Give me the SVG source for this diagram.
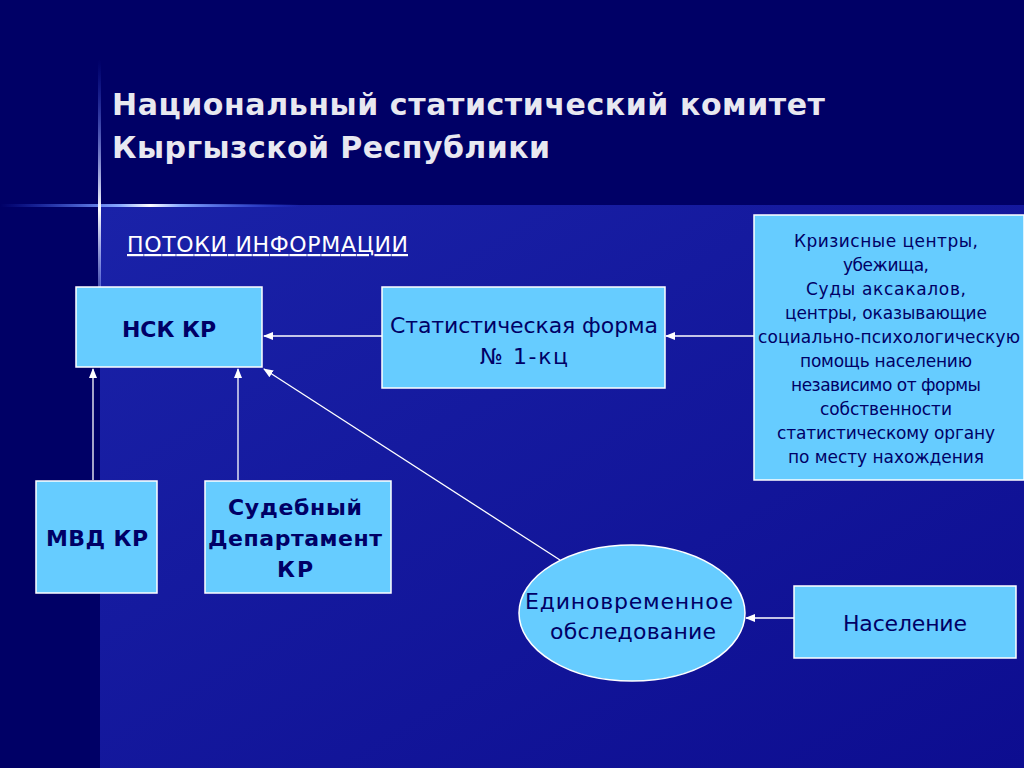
<svg xmlns="http://www.w3.org/2000/svg" width="1024" height="768" viewBox="0 0 1024 768">
<defs>
<linearGradient id="bg" x1="0" y1="0" x2="1" y2="1"><stop offset="0" stop-color="#1a22a8"/><stop offset="1" stop-color="#0d0d90"/></linearGradient>
<linearGradient id="hl" x1="0" x2="1"><stop offset="0" stop-color="#3355ff" stop-opacity="0"/><stop offset="0.4" stop-color="#88aaff"/><stop offset="0.5" stop-color="#ffffff"/><stop offset="0.6" stop-color="#88aaff"/><stop offset="1" stop-color="#3355ff" stop-opacity="0"/></linearGradient>
<linearGradient id="vl" x1="0" y1="0" x2="0" y2="1"><stop offset="0" stop-color="#3355ff" stop-opacity="0"/><stop offset="0.5" stop-color="#ffffff"/><stop offset="1" stop-color="#3355ff" stop-opacity="0"/></linearGradient>
<marker id="ar" markerWidth="10" markerHeight="8" refX="9" refY="4" orient="auto" markerUnits="userSpaceOnUse"><path d="M0,0 L10,4 L0,8 z" fill="#fff"/></marker>
</defs>
<style>
.box{fill:#66ccff;stroke:#fff;stroke-width:1.5}
.t{font-family:"DejaVu Sans",Verdana,sans-serif;fill:#000066;text-anchor:middle}
.b{font-weight:bold;font-size:22px}
.n{font-size:22px}
.s{font-size:17px}
.c{stroke:#fff;stroke-width:1.3;fill:none;marker-end:url(#ar)}
</style>
<rect width="1024" height="768" fill="#000066"/>
<rect x="100" y="205" width="924" height="563" fill="url(#bg)"/>
<rect x="0" y="204" width="300" height="3" fill="url(#hl)"/>
<rect x="98" y="60" width="3" height="300" fill="url(#vl)"/>
<text x="112" y="115" font-family="DejaVu Sans,Verdana,sans-serif" font-weight="bold" font-size="30" fill="#e8e8f0" textLength="713">Национальный статистический комитет</text>
<text x="112" y="158" font-family="DejaVu Sans,Verdana,sans-serif" font-weight="bold" font-size="30" fill="#e8e8f0" textLength="438">Кыргызской Республики</text>
<text x="127" y="252" font-family="DejaVu Sans,Verdana,sans-serif" font-size="22" fill="#fff" text-decoration="underline" textLength="281">ПОТОКИ ИНФОРМАЦИИ</text>
<g id="connectors">
<line class="c" x1="382" y1="336" x2="264" y2="336"/>
<line class="c" x1="754" y1="336" x2="666" y2="336"/>
<line class="c" x1="93" y1="480" x2="93" y2="369"/>
<line class="c" x1="238" y1="480" x2="238" y2="369"/>
<line class="c" x1="560" y1="560" x2="264" y2="369"/>
<line class="c" x1="794" y1="618" x2="746" y2="618"/>
</g>
<g id="nsk"><rect class="box" x="76" y="287" width="186" height="80"/><text class="t b" x="169" y="337" textLength="94">НСК КР</text></g>
<g id="form"><rect class="box" x="382" y="287" width="283" height="101"/><text class="t n" x="524" y="333" textLength="268">Статистическая форма</text><text class="t n" x="524" y="364" textLength="88">№ 1-кц</text></g>
<g id="centers"><rect class="box" x="754" y="215" width="270" height="265"/>
<text class="t s" x="886" y="247" textLength="184">Кризисные  центры,</text>
<text class="t s" x="886" y="271" textLength="86">убежища,</text>
<text class="t s" x="886" y="295" textLength="160">Суды аксакалов,</text>
<text class="t s" x="886" y="319" textLength="202">центры, оказывающие</text>
<text class="t s" x="889" y="343" textLength="262">социально-психологическую</text>
<text class="t s" x="886" y="367" textLength="172">помощь населению</text>
<text class="t s" x="886" y="391" textLength="190">независимо от формы</text>
<text class="t s" x="886" y="415" textLength="132">собственности</text>
<text class="t s" x="886" y="439" textLength="218">статистическому органу</text>
<text class="t s" x="886" y="463" textLength="196">по месту нахождения</text></g>
<g id="mvd"><rect class="box" x="36" y="481" width="121" height="112"/><text class="t b" x="97" y="546" textLength="102">МВД КР</text></g>
<g id="court"><rect class="box" x="205" y="481" width="186" height="112"/><text class="t b" x="295" y="515" textLength="134">Судебный</text><text class="t b" x="295" y="546" textLength="174">Департамент</text><text class="t b" x="295" y="577" textLength="36">КР</text></g>
<g id="survey"><ellipse cx="632" cy="613" rx="113" ry="68" fill="#66ccff" stroke="#fff" stroke-width="1.5"/><text class="t n" x="629" y="609" textLength="208">Единовременное</text><text class="t n" x="633" y="639" textLength="166">обследование</text></g>
<g id="pop"><rect class="box" x="794" y="586" width="222" height="72"/><text class="t n" x="905" y="631" textLength="124">Население</text></g>
</svg>
